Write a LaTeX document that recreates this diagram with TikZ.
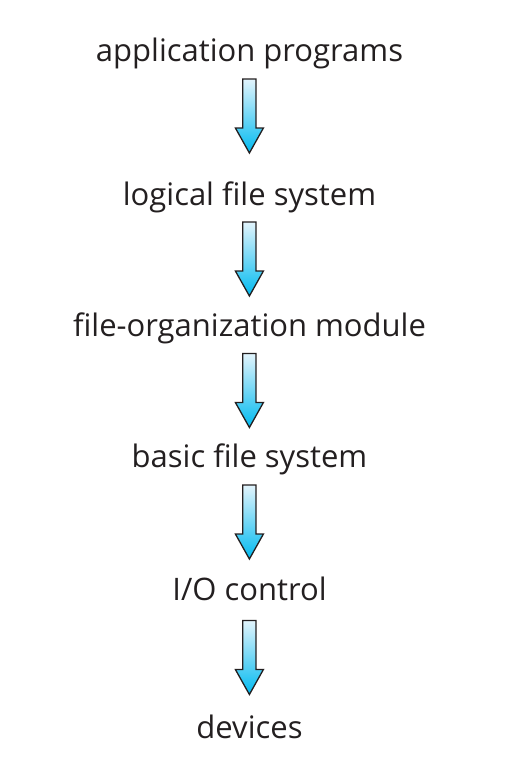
\documentclass[tikz,border=0pt]{standalone}
\usepackage{fontspec}
\setmainfont{Open Sans}
\definecolor{arrtop}{RGB}{226,244,252}
\definecolor{arrbot}{RGB}{0,186,240}
\definecolor{arrline}{RGB}{35,31,32}
\begin{document}
\begin{tikzpicture}[x=1pt,y=-1pt,
  label/.style={anchor=base,inner sep=0pt,font=\fontsize{31}{36}\selectfont,text=arrline},
  bigarrow/.style={draw=arrline,line width=1.3pt,line join=miter,top color=arrtop,bottom color=arrbot}]
\useasboundingbox (0,0) rectangle (510,782);
\node[label] (n1) at (249.5,61) {application programs};
\node[label] (n2) at (249.5,205) {logical file system};
\node[label] (n3) at (249.5,336) {file-organization module};
\node[label] (n4) at (249.5,467) {basic file system};
\node[label] (n5) at (249.5,600) {I/O control};
\node[label] (n6) at (249.5,738) {devices};
\foreach \i/\t in {1/79,2/222,3/353.5,4/485,5/620.5}{
  \coordinate (a\i) at (249.4,\t);
  \draw[bigarrow] (a\i) ++(-6.65,0) -- ++(0,49) -- ++(-7.35,0) -- ++(14,25) -- ++(14,-25) -- ++(-7.35,0) -- ++(0,-49) -- cycle;
}
\end{tikzpicture}
\end{document}
